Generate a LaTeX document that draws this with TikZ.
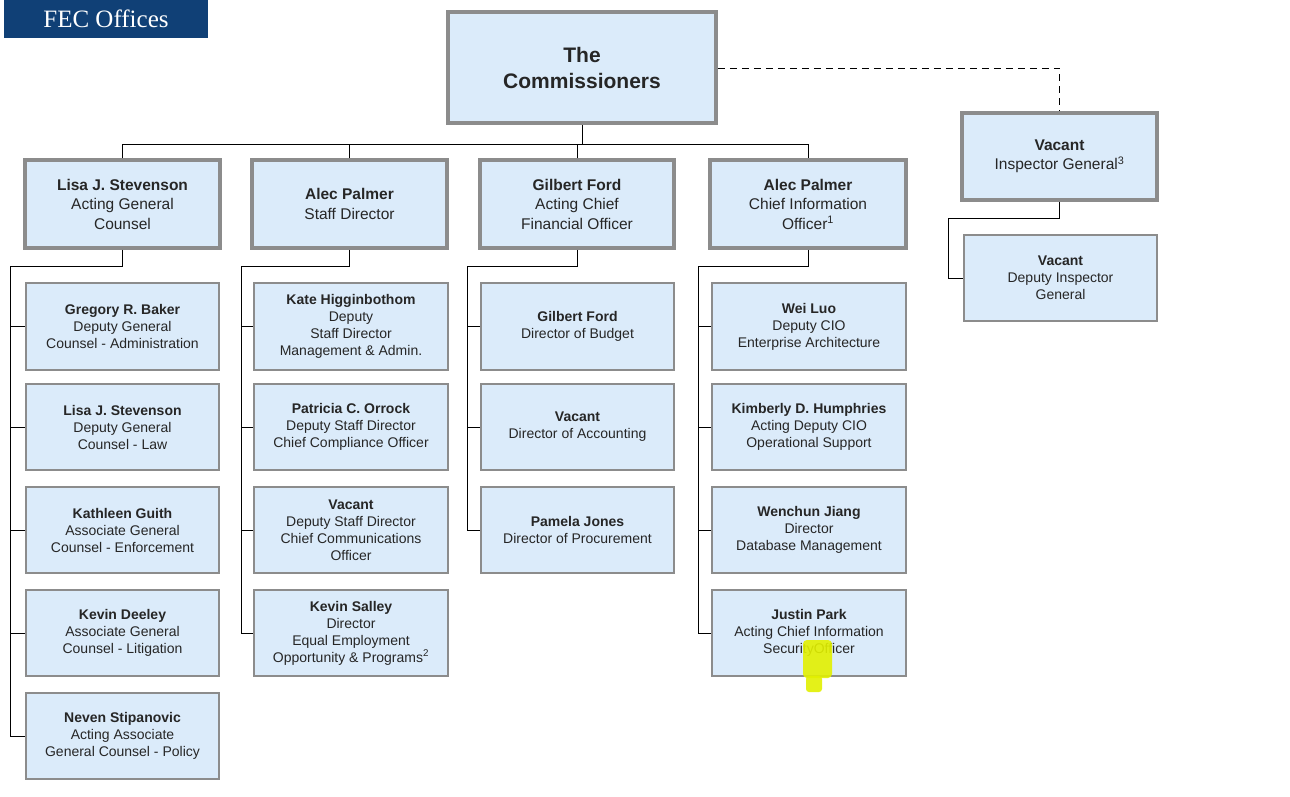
\documentclass[tikz,border=0pt]{standalone}
\usepackage{fontspec}
\setmainfont{Liberation Sans}
\definecolor{boxfill}{RGB}{219,235,250}
\definecolor{titlebg}{RGB}{16,64,118}
\definecolor{hl}{RGB}{226,240,0}
\begin{document}
\begin{tikzpicture}[x=1pt,y=-1pt,
  box/.style={draw=black!45,line width=1.3pt,fill=boxfill,align=center,inner sep=0pt,font=\fontsize{14}{17}\selectfont,text=black!85},
  head/.style={draw=black!45,line width=3.5pt,fill=boxfill,align=center,inner sep=0pt,font=\fontsize{15.5}{19.5}\selectfont,text=black!85},
  ln/.style={line width=1pt,black}]
\useasboundingbox (0,0) rectangle (1290,796);
\fill[white] (0,0) rectangle (1290,796);
\node[fill=titlebg,text=white,font=\fontsize{25}{27}\selectfont\bfseries\setmainfont{Liberation Serif},minimum width=204,minimum height=38,inner sep=0] (t) at (106,19) {FEC Offices};
% commissioners
\node[head,minimum width=268,minimum height=111,font=\fontsize{21}{26}\selectfont\bfseries] (c) at (582,67.5) {The\\Commissioners};
\node[head,minimum width=195,minimum height=87] (ig) at (1059.5,156.5) {\textbf{Vacant}\\Inspector General\textsuperscript{3}};
\node[box,minimum width=193,minimum height=86] (dig) at (1060.5,278) {\textbf{Vacant}\\Deputy Inspector\\General};
% heads
\node[head,minimum width=195,minimum height=88] (h1) at (122.5,204) {\textbf{Lisa J. Stevenson}\\Acting General\\Counsel};
\node[head,minimum width=195,minimum height=88] (h2) at (349.5,204) {\textbf{Alec Palmer}\\Staff Director};
\node[head,minimum width=194,minimum height=88] (h3) at (577,204) {\textbf{Gilbert Ford}\\Acting Chief\\Financial Officer};
\node[head,minimum width=196,minimum height=88] (h4) at (808,204) {\textbf{Alec Palmer}\\Chief Information\\Officer\textsuperscript{1}};
% column 1
\node[box,minimum width=193,minimum height=87] (a1) at (122.5,326.5) {\textbf{Gregory R. Baker}\\Deputy General\\Counsel - Administration};
\node[box,minimum width=193,minimum height=86] (a2) at (122.5,427) {\textbf{Lisa J. Stevenson}\\Deputy General\\Counsel - Law};
\node[box,minimum width=193,minimum height=86] (a3) at (122.5,530) {\textbf{Kathleen Guith}\\Associate General\\Counsel - Enforcement};
\node[box,minimum width=193,minimum height=86] (a4) at (122.5,633) {\textbf{Kevin Deeley}\\Associate General\\Counsel - Litigation};
\node[box,minimum width=193,minimum height=86] (a5) at (122.5,736) {\textbf{Neven Stipanovic}\\Acting Associate\\General Counsel - Policy};
% column 2
\node[box,minimum width=194,minimum height=87] (b1) at (351,326.5) {\textbf{Kate Higginbothom}\\Deputy\\Staff Director\\Management \& Admin.};
\node[box,minimum width=194,minimum height=86] (b2) at (351,427) {\textbf{Patricia C. Orrock}\\Deputy Staff Director\\Chief Compliance Officer};
\node[box,minimum width=194,minimum height=86] (b3) at (351,530) {\textbf{Vacant}\\Deputy Staff Director\\Chief Communications\\Officer};
\node[box,minimum width=194,minimum height=86] (b4) at (351,633) {\textbf{Kevin Salley}\\Director\\Equal Employment\\Opportunity \& Programs\textsuperscript{2}};
% column 3
\node[box,minimum width=193,minimum height=87] (d1) at (577.5,326.5) {\textbf{Gilbert Ford}\\Director of Budget};
\node[box,minimum width=193,minimum height=86] (d2) at (577.5,427) {\textbf{Vacant}\\Director of Accounting};
\node[box,minimum width=193,minimum height=86] (d3) at (577.5,530) {\textbf{Pamela Jones}\\Director of Procurement};
% column 4
\node[box,minimum width=194,minimum height=87] (e1) at (809,326.5) {\textbf{Wei Luo}\\Deputy CIO\\Enterprise Architecture};
\node[box,minimum width=194,minimum height=86] (e2) at (809,427) {\textbf{Kimberly D. Humphries}\\Acting Deputy CIO\\Operational Support};
\node[box,minimum width=194,minimum height=86] (e3) at (809,530) {\textbf{Wenchun Jiang}\\Director\\Database Management};
\node[box,minimum width=194,minimum height=86] (e4) at (809,633) {\textbf{Justin Park}\\Acting Chief Information\\SecurityOfficer};
% connectors
\draw[ln] (c.south) -- (c.south |- 0,144);
\draw[ln] (h1.north) |- (h4.north |- 0,144) -- (h4.north);
\draw[ln] (h2.north) -- (h2.north |- 0,144);
\draw[ln] (h3.north) -- (h3.north |- 0,144);
\draw[ln,dashed,dash pattern=on 7pt off 5pt] (c.east |- 0,68) -| (ig.north);
\foreach \h/\x/\l in {h1/10/a5,h2/241/b4,h3/467/d3,h4/698/e4}{
  \draw[ln] (\h.south) -- ++(0,17) -| (\x,0 |- \l.west) -- (\l.west);
}
\foreach \x/\l in {10/a1,10/a2,10/a3,10/a4,241/b1,241/b2,241/b3,467/d1,467/d2,698/e1,698/e2,698/e3}{
  \draw[ln] (\x,0 |- \l.west) -- (\l.west);
}
\draw[ln] (ig.south) -- ++(0,17) -| (948,0 |- dig.west) -- (dig.west);
% highlight mark
\fill[hl,opacity=0.9,rounded corners=4pt] (803,640) rectangle (832,678);
\fill[hl,opacity=0.9,rounded corners=3pt] (806,676) rectangle (822,692);
\end{tikzpicture}
\end{document}
